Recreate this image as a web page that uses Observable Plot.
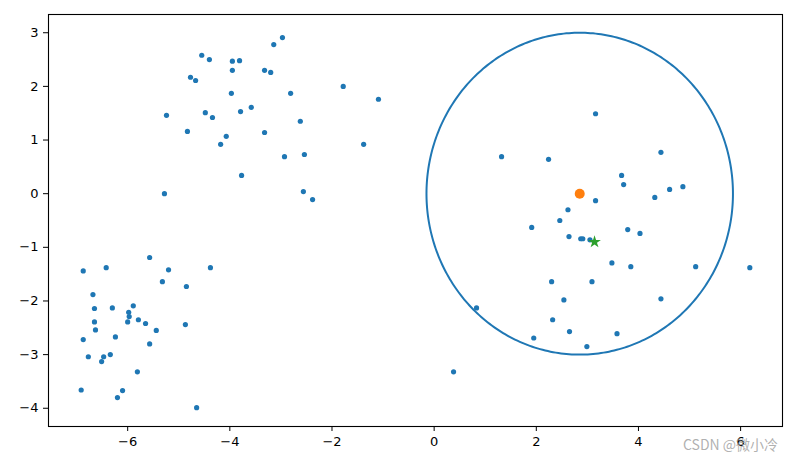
<!DOCTYPE html>
<html>
<head>
<meta charset="utf-8">
<script src="https://cdn.jsdelivr.net/npm/d3@7"></script>
<script src="https://cdn.jsdelivr.net/npm/@observablehq/plot@0.6"></script>
<style>
  html, body { margin: 0; padding: 0; background: white; }
  #wrap { position: relative; width: 798px; height: 463px; }
  #wm { position: absolute; left: 683px; top: 434px; font-family: "Noto Sans CJK SC", "Noto Sans", sans-serif; font-size: 14px; color: rgba(150,150,150,0.75); white-space: nowrap; }
</style>
</head>
<body>
<div id="wrap"><div id="wm">CSDN @微小冷</div></div>
<script>
// blue scatter points
const pointsX = [
  -5.57,-6.42,-6.87,-4.38,-5.20,-5.32,-4.85,-6.68,-5.89,-6.65,-6.30,-5.98,-5.97,-6.00,-5.79,-5.65,
  -6.65,-6.63,-5.44,-4.87,-6.87,-6.24,-5.57,-6.77,-6.47,-6.34,-6.51,-5.81,-6.91,-6.10,-6.20,-4.65,
  -2.97,-3.14,-4.55,-4.40,-3.95,-3.81,-3.95,-3.32,-3.20,-4.77,-4.67,-1.78,-3.97,-2.81,-1.09,-5.24,
  -4.48,-4.34,-3.79,-3.58,-2.62,-4.83,-4.07,-3.32,-4.18,-1.38,-2.93,-2.54,-3.77,-5.28,-2.56,-2.38,
  3.16,1.32,2.24,3.67,3.71,3.16,2.62,2.46,1.91,2.64,2.87,2.91,3.05,3.48,4.44,4.61,4.87,4.32,
  3.79,4.03,3.85,5.12,6.18,2.30,3.09,2.54,4.44,0.83,2.32,2.65,3.58,1.95,2.99,0.38
];
const pointsY = [
  -1.19,-1.38,-1.44,-1.38,-1.42,-1.64,-1.73,-1.88,-2.09,-2.14,-2.13,-2.21,-2.29,-2.39,-2.35,-2.42,
  -2.39,-2.54,-2.55,-2.44,-2.72,-2.67,-2.80,-3.04,-3.04,-3.00,-3.13,-3.32,-3.66,-3.67,-3.80,-3.99,
  2.91,2.78,2.58,2.50,2.47,2.48,2.30,2.30,2.26,2.17,2.11,2.00,1.87,1.87,1.76,1.46,
  1.51,1.42,1.53,1.61,1.35,1.16,1.07,1.14,0.92,0.92,0.69,0.73,0.34,0.00,0.04,-0.11,
  1.49,0.69,0.64,0.34,0.17,-0.13,-0.30,-0.50,-0.63,-0.80,-0.84,-0.84,-0.86,-1.29,0.77,0.08,0.13,-0.07,
  -0.67,-0.74,-1.36,-1.36,-1.38,-1.64,-1.64,-1.98,-1.96,-2.13,-2.35,-2.57,-2.61,-2.69,-2.85,-3.32
];
// circle centre (orange) and radius
const centerX = [2.85];
const centerY = [0.0];
const radius = [3];
// green star point
const starX = [3.14];
const starY = [-0.90];
// ticks
const xTicks = [-6, -4, -2, 0, 2, 4, 6];
const yTicks = [-4, -3, -2, -1, 0, 1, 2, 3];

const pts = pointsX.map((x, i) => ({x, y: pointsY[i]}));
const center = [{x: centerX[0], y: centerY[0]}];
const star = [{x: starX[0], y: starY[0]}];
// circle outline geometry from centre and radius
const angles = d3.range(0, 361, 1);
const circle = angles.map(a => ({
  x: centerX[0] + radius[0] * Math.cos(a * Math.PI / 180),
  y: centerY[0] + radius[0] * Math.sin(a * Math.PI / 180)
}));
const fmt = d3.format("d");

const chart = Plot.plot({
  width: 798,
  height: 463,
  marginLeft: 48,
  marginRight: 16,
  marginTop: 14,
  marginBottom: 37,
  x: {domain: [-7.55, 6.82]},
  y: {domain: [-4.34, 3.34]},
  style: {fontFamily: "DejaVu Sans", fontSize: "13px", background: "white", color: "black"},
  marks: [
    Plot.axisX(xTicks, {label: null, tickSize: 5, tickPadding: 5, fontSize: 13, tickFormat: fmt}),
    Plot.axisY(yTicks, {label: null, tickSize: 5, tickPadding: 5, fontSize: 13, tickFormat: fmt}),
    Plot.line(circle, {x: "x", y: "y", stroke: "#1f77b4", strokeWidth: 2}),
    Plot.dot(pts, {x: "x", y: "y", r: 2.6, fill: "#1f77b4", stroke: null}),
    Plot.dot(center, {x: "x", y: "y", r: 5, fill: "#ff7f0e"}),
    Plot.dot(star, {x: "x", y: "y", symbol: "star", r: 4, fill: "#2ca02c"}),
    Plot.frame({stroke: "black", strokeWidth: 1.1})
  ]
});
document.getElementById("wrap").insertBefore(chart, document.getElementById("wm"));
</script>
</body>
</html>
